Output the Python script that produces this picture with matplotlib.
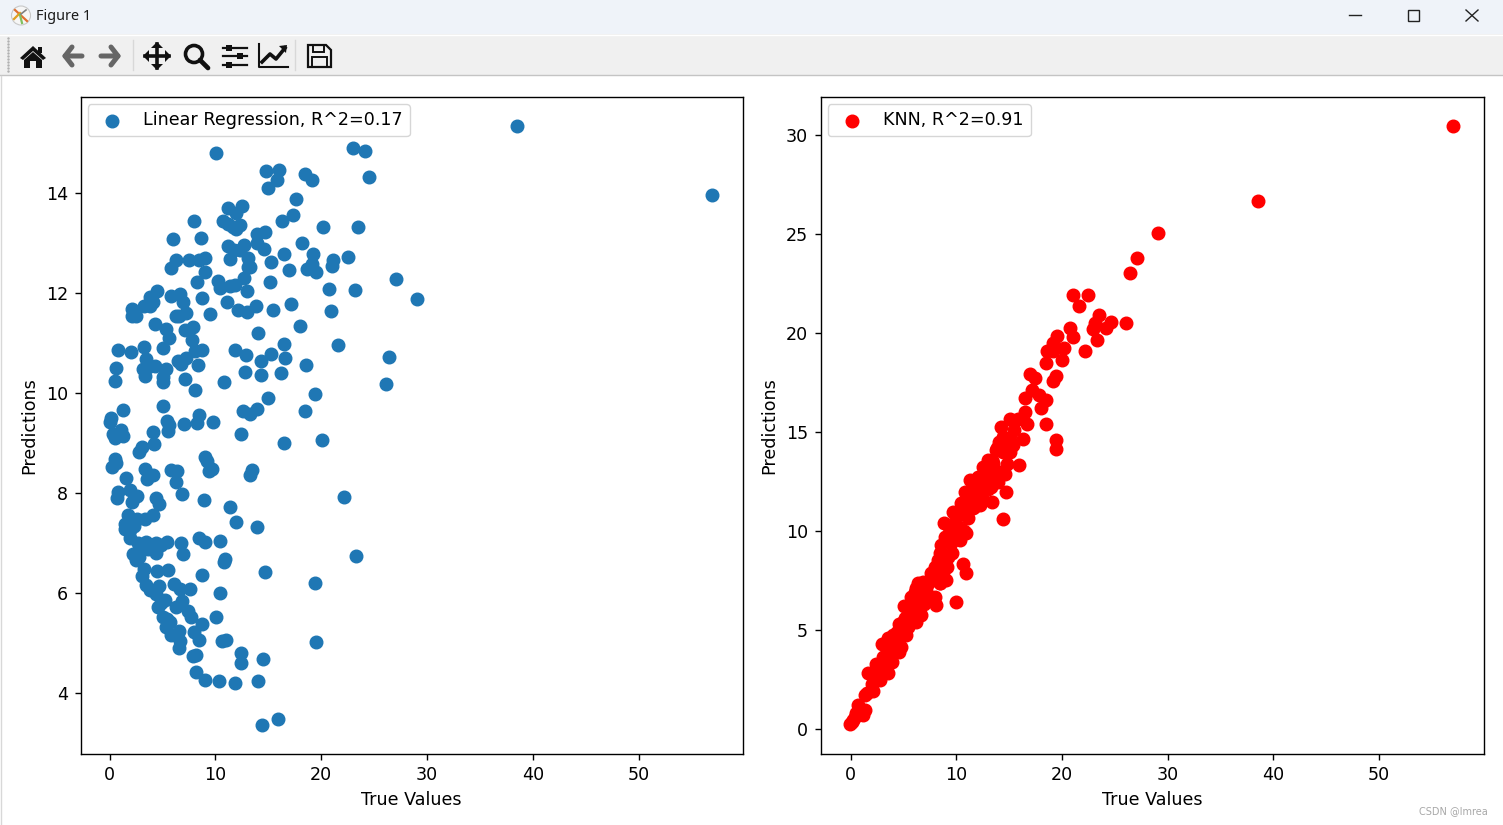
import matplotlib
matplotlib.use("Agg")
import matplotlib.pyplot as plt
from matplotlib.patches import Circle, Polygon, Rectangle

# values
lr_true = [
    38.47, 56.9,
    10.05, 23.0, 24.13, 24.51, 14.77, 16.0, 15.84, 15.0, 18.46, 19.12,
    17.64, 17.33, 16.29, 20.16, 23.47, 11.18, 12.5, 11.94, 7.97, 10.71,
    11.18, 11.66, 11.97, 12.35, 13.92, 14.65, 13.95, 14.58, 5.99, 8.63,
    18.18, 11.18, 12.73, 11.75, 12.29, 11.37, 16.47, 19.21, 22.52, 13.07,
    15.25, 21.07, 21.01, 6.27, 5.8, 7.5, 8.44, 8.98, 9.01, 13.07,
    13.23, 16.95, 18.65, 19.12, 19.53, 12.73, 15.15, 8.25, 10.24, 10.43,
    11.34, 11.88, 12.98, 20.73, 23.18, 27.06, 29.07, 4.47, 5.83, 6.68,
    6.96, 8.76, 3.87, 4.1, 3.78, 3.24, 11.09, 12.13, 12.98, 13.83,
    15.43, 17.14, 20.92, 2.11, 2.11, 2.52, 7.21, 6.27, 6.55, 9.48,
    4.28, 5.35, 7.12, 7.91, 18.02, 14.02, 5.61, 7.78, 21.58, 16.47,
    5.04, 3.24, 0.79, 2.02, 8.06, 8.73, 11.84, 12.88, 15.25, 16.57,
    26.43, 14.3, 3.47, 6.46, 7.25, 6.77, 8.35, 18.55, 4.28, 3.15,
    3.62, 0.6, 5.35, 12.79, 16.19, 14.3, 3.34, 5.1, 5.1, 7.12,
    0.5, 26.11, 10.8, 8.06, 19.4, 14.99, 5.04, 1.26, 12.6, 13.95,
    13.29, 18.46, 8.44, 8.25, 7.02, 5.42, 5.61, 9.77, 0.16, 0.06,
    12.41, 5.51, 4.1, 1.1, 0.3, 1.32, 0.54, 4.19, 16.47, 20.07,
    3.06, 2.77, 8.98, 9.2, 9.67, 9.39, 13.45, 13.26, 0.5, 0.63,
    0.22, 3.31, 4.1, 3.53, 5.83, 6.36, 6.27, 1.54, 6.84, 0.79,
    1.92, 0.69, 2.61, 2.11, 4.38, 4.66, 8.91, 22.14, 11.37, 11.94,
    13.92, 1.73, 4.1, 2.61, 3.31, 1.51, 2.36, 1.42, 1.95, 1.95,
    8.5, 8.98, 10.43, 6.74, 6.93, 5.42, 4.38, 3.47, 2.68, 4.88,
    2.84, 3.62, 4.38, 2.2, 2.77, 2.52, 10.93, 10.8, 23.28, 14.68,
    19.4, 8.76, 5.51, 4.47, 3.24, 3.06, 6.08, 6.68, 7.59, 10.43,
    3.43, 4.66, 3.81, 4.38, 5.29, 6.84, 6.27, 4.57, 4.85, 7.4,
    7.69, 10.05, 8.73, 5.04, 5.42, 5.67, 5.35, 6.55, 7.97, 8.44,
    5.83, 6.65, 6.55, 10.62, 11.03, 19.5, 12.41, 14.49, 12.41, 7.88,
    8.19, 8.16, 9.01, 10.33, 11.84, 14.02, 14.4, 15.91,
]
lr_pred = [
    15.34, 13.96,
    14.81, 14.91, 14.85, 14.33, 14.45, 14.47, 14.27, 14.11, 14.39, 14.27,
    13.89, 13.57, 13.45, 13.33, 13.33, 13.71, 13.75, 13.61, 13.45, 13.44,
    13.39, 13.33, 13.28, 13.36, 13.19, 13.23, 13.01, 12.89, 13.09, 13.11,
    13.01, 12.95, 12.97, 12.87, 12.86, 12.69, 12.79, 12.79, 12.73, 12.70,
    12.63, 12.66, 12.55, 12.66, 12.51, 12.67, 12.66, 12.70, 12.43, 12.52,
    12.52, 12.47, 12.49, 12.58, 12.43, 12.30, 12.23, 12.23, 12.25, 12.11,
    12.15, 12.17, 12.05, 12.09, 12.07, 12.29, 11.89, 12.05, 11.95, 11.99,
    11.83, 11.91, 11.93, 11.83, 11.75, 11.75, 11.83, 11.67, 11.63, 11.75,
    11.67, 11.79, 11.65, 11.69, 11.55, 11.55, 11.6, 11.55, 11.55, 11.58,
    11.39, 11.29, 11.27, 11.33, 11.35, 11.21, 11.11, 11.07, 10.97, 10.99,
    10.91, 10.93, 10.87, 10.83, 10.85, 10.87, 10.86, 10.77, 10.79, 10.71,
    10.73, 10.65, 10.69, 10.64, 10.7, 10.59, 10.57, 10.57, 10.55, 10.49,
    10.53, 10.51, 10.48, 10.43, 10.41, 10.37, 10.35, 10.33, 10.23, 10.29,
    10.25, 10.19, 10.21, 10.05, 9.97, 9.91, 9.75, 9.67, 9.65, 9.69,
    9.59, 9.63, 9.55, 9.41, 9.39, 9.45, 9.36, 9.43, 9.51, 9.43,
    9.19, 9.24, 9.21, 9.26, 9.18, 9.15, 9.11, 8.99, 9.01, 9.05,
    8.93, 8.83, 8.73, 8.63, 8.49, 8.45, 8.46, 8.36, 8.69, 8.61,
    8.53, 8.48, 8.36, 8.29, 8.46, 8.45, 8.23, 8.31, 7.99, 8.03,
    8.05, 7.91, 7.94, 7.83, 7.91, 7.79, 7.87, 7.93, 7.73, 7.43,
    7.33, 7.57, 7.57, 7.49, 7.49, 7.39, 7.34, 7.29, 7.26, 7.11,
    7.1, 7.02, 7.05, 7.01, 6.79, 7.02, 7.01, 7.02, 7.01, 6.96,
    6.89, 6.89, 6.81, 6.78, 6.73, 6.66, 6.69, 6.63, 6.75, 6.43,
    6.21, 6.37, 6.47, 6.45, 6.49, 6.35, 6.19, 6.09, 6.09, 6.01,
    6.17, 6.15, 6.07, 5.99, 5.86, 5.85, 5.73, 5.73, 5.81, 5.65,
    5.53, 5.53, 5.39, 5.53, 5.49, 5.43, 5.33, 5.25, 5.23, 5.06,
    5.16, 5.05, 4.91, 5.04, 5.06, 5.03, 4.81, 4.69, 4.61, 4.75,
    4.77, 4.43, 4.27, 4.25, 4.21, 4.25, 3.37, 3.49,
]

knn_true = [
    57.0, 38.54, 29.07, 27.08, 26.42,
    21.06, 22.48, 21.63, 23.52, 24.63, 26.08, 24.22, 23.11, 22.95, 23.33,
    20.74, 21.06, 19.54, 19.17, 20.24, 18.6, 19.17, 22.2, 20.02, 18.53,
    16.95, 17.43, 19.42, 19.17, 17.18, 16.51, 17.81, 18.47, 18.03, 16.51,
    15.06, 15.85, 14.24, 15.47, 16.67, 18.53, 16.32, 19.48, 19.48,
    14.43, 15.06, 14.05, 14.75, 15.38, 13.8, 14.43, 15.06, 13.01, 13.48,
    12.54, 13.01, 13.8, 14.59, 15.94, 12.06, 11.27, 12.85, 11.75, 12.38,
    13.96, 13.32, 12.85, 14.71, 10.8, 11.59, 12.22, 11.43, 12.53, 13.42,
    10.48, 11.11, 12.22, 11.59, 10.8, 9.73, 11.11, 14.43, 8.84, 10.01,
    9.85, 10.39, 10.89, 8.94, 9.85, 10.39, 9.54, 8.59, 8.43, 9.22,
    8.27, 8.9, 10.64, 10.96, 7.64, 8.27, 8.75, 9.06, 8.43, 6.38,
    6.85, 7.33, 7.96, 8.12, 9.98, 6.22, 7.17, 5.75, 6.54, 7.33,
    5.02, 5.91, 6.7, 5.43, 6.16, 4.58, 5.43, 5.27, 4.01, 3.54,
    4.49, 3.0, 4.8, 4.01, 3.06, 3.7, 2.43, 2.91, 3.54, 1.64,
    2.27, 2.75, 2.12, 1.33, 0.7, 1.33, 1.17, 0.54, 0.22, -0.09,
    0.1, 0.4, 0.9, 1.6, 2.0, 2.4, 2.9, 3.3, 3.6, 4.1,
    4.4, 4.8, 5.2, 5.6, 6.0, 6.4, 6.8, 7.3, 7.7, 8.0,
    8.6, 9.3, 11.3, 11.9, 12.4, 12.9, 13.4, 13.9,
    5.0, 5.8, 6.5, 7.0, 7.6, 8.5, 9.1, 9.6, 10.2, 10.7,
    11.0, 11.7, 12.3, 13.0, 13.6, 14.2, 14.8, 3.9, 4.6, 6.1,
]
knn_pred = [
    30.45, 26.67, 25.05, 23.79, 23.03,
    21.92, 21.92, 21.35, 20.91, 20.54, 20.49, 20.27, 20.49, 20.19, 19.65,
    20.27, 19.82, 19.87, 19.48, 19.26, 19.09, 19.09, 19.09, 18.62, 18.47,
    17.95, 17.75, 17.83, 17.58, 17.12, 16.72, 16.87, 16.62, 16.2, 16.01,
    15.64, 15.64, 15.25, 15.1, 15.39, 15.39, 14.63, 14.6, 14.14,
    14.77, 14.68, 14.48, 14.43, 14.34, 14.09, 14.01, 14.01, 13.59, 13.42,
    13.25, 13.17, 13.0, 12.88, 13.32, 12.74, 12.58, 12.74, 12.49, 12.58,
    12.49, 12.24, 12.41, 11.97, 11.99, 12.07, 11.9, 11.73, 11.57, 11.45,
    11.43, 11.4, 11.31, 11.14, 11.06, 10.94, 10.67, 10.61, 10.39, 10.64,
    10.3, 10.13, 9.88, 9.71, 9.8, 9.55, 9.38, 9.29, 8.87, 8.7,
    8.53, 8.45, 8.33, 7.86, 7.89, 7.86, 7.95, 7.52, 7.36, 7.39,
    7.44, 7.36, 6.68, 6.26, 6.4, 7.1, 7.1, 6.68, 6.68, 6.77,
    6.21, 6.18, 5.76, 5.76, 5.42, 5.3, 5.17, 4.75, 4.75, 4.58,
    4.58, 4.29, 4.16, 3.9, 3.65, 3.4, 3.31, 3.06, 2.81, 2.81,
    2.64, 2.47, 1.93, 1.71, 1.21, 0.96, 0.7, 0.79, 0.45, 0.23,
    0.35, 0.6, 1.0, 1.8, 2.3, 2.7, 3.2, 3.7, 4.1, 4.4,
    4.9, 5.2, 5.6, 6.0, 6.3, 6.7, 7.0, 7.4, 7.7, 8.2,
    8.9, 9.9, 11.7, 12.2, 12.8, 13.2, 13.6, 14.2,
    5.4, 5.9, 6.0, 6.3, 6.6, 7.4, 8.2, 8.9, 9.6, 10.0,
    10.9, 11.2, 11.9, 12.1, 12.7, 13.0, 13.4, 3.4, 3.9, 6.9,
]

W, H = 1503, 825
FS = 12.6

fig = plt.figure(figsize=(W / 100, H / 100), dpi=100, facecolor="white")

# window frame and toolbar, drawn in pixel coordinates
bg = fig.add_axes([0, 0, 1, 1], zorder=-1)
bg.set_xlim(0, W)
bg.set_ylim(H, 0)
bg.axis("off")
bg.add_patch(Rectangle((0, 0), W, 34, color="#eff3f9", lw=0))
bg.add_patch(Rectangle((0, 34), W, 41, color="#f0f0f0", lw=0))
bg.plot([0, W], [75, 75], color="#c4c4c4", lw=1)
bg.plot([0, W], [34.5, 34.5], color="#ffffff", lw=1)
bg.plot([1, 1], [76, H], color="#d8d8d8", lw=1)
bg.text(36, 16, "Figure 1", fontsize=10.4, family="Noto Sans", va="center", color="#1a1a1a")

# app logo
bg.add_patch(Circle((21, 15.5), 9.5, fc="#f6f6f6", ec="#c8c8c8", lw=0.8))
bg.plot([15, 27], [10, 21], color="#e07030", lw=1.6)
bg.plot([14, 20], [19, 13], color="#e0a020", lw=1.6)
bg.plot([20, 22], [15, 23], color="#80c060", lw=1.6)
bg.plot([21, 26], [14, 10], color="#808080", lw=1.2)

# window buttons
bg.plot([1349, 1361], [14.5, 14.5], color="#222222", lw=1)
bg.add_patch(Rectangle((1407.5, 9.5), 11, 11, fc="none", ec="#222222", lw=1))
bg.plot([1466, 1478], [10, 21], color="#222222", lw=1)
bg.plot([1466, 1478], [21, 10], color="#222222", lw=1)

# toolbar
grip_y = range(38, 73, 3)
bg.plot([8] * len(grip_y), list(grip_y), ls="none", marker=".", ms=1.5, color="#b0b0b0")
for sx in (133, 295):
    bg.plot([sx, sx], [40, 70], color="#d8d8d8", lw=1)

dark = "#111111"
grey = "#666666"
# home
bg.add_patch(Polygon([(20, 58), (33, 46), (46, 58), (43, 60), (33, 51), (23, 60)], color=dark, lw=0))
bg.add_patch(Polygon([(24, 60), (33, 52), (42, 60), (42, 68), (36, 68), (36, 61), (30, 61), (30, 68), (24, 68)], color=dark, lw=0))
bg.add_patch(Rectangle((38, 47), 4, 6, color=dark, lw=0))
# back and forward
bg.plot([82, 65, 72], [56, 56, 47], color=grey, lw=3.6, solid_capstyle="round")
bg.plot([65, 72], [56, 65], color=grey, lw=3.6, solid_capstyle="round")
bg.plot([101, 118, 111], [56, 56, 47], color=grey, lw=3.6, solid_capstyle="round")
bg.plot([118, 111], [56, 65], color=grey, lw=3.6, solid_capstyle="round")
# pan
bg.plot([145, 169], [56, 56], color=dark, lw=2.6)
bg.plot([157, 157], [44, 68], color=dark, lw=2.6)
for p in ([(143, 56), (149, 50), (149, 62)], [(171, 56), (165, 50), (165, 62)],
          [(157, 42), (151, 48), (163, 48)], [(157, 70), (151, 64), (163, 64)]):
    bg.add_patch(Polygon(p, color=dark, lw=0))
# zoom
bg.add_patch(Circle((194, 54), 8.5, fc="none", ec=dark, lw=2.6))
bg.plot([200, 208], [60, 68], color=dark, lw=3.4, solid_capstyle="round")
# sliders
for y0, kx in ((48, 229), (56, 240), (65, 229)):
    bg.plot([223, 247], [y0, y0], color=dark, lw=1.6)
    bg.add_patch(Rectangle((kx - 3, y0 - 3), 6, 6, color=dark, lw=0))
# line chart icon
bg.plot([259, 259, 288], [44, 67, 67], color=dark, lw=1.5)
bg.plot([262, 270, 276, 285], [62, 54, 59, 48], color=dark, lw=2.6)
bg.add_patch(Polygon([(287, 45), (279, 46), (286, 53)], color=dark, lw=0))
# save
bg.add_patch(Polygon([(308, 45), (326, 45), (331, 50), (331, 67), (308, 67)], fc="none", ec=dark, lw=1.6))
bg.add_patch(Rectangle((313, 45), 11, 7, fc="none", ec=dark, lw=1.4))
bg.add_patch(Rectangle((312, 57), 15, 10, fc="none", ec=dark, lw=1.4))

bg.text(1488, 811, "CSDN @Imrea", fontsize=7, color="#a8a8a8", ha="right", va="center")


def panel(x0, x1, y0, y1):
    return fig.add_axes([x0 / W, 1 - y1 / H, (x1 - x0) / W, (y1 - y0) / H])


ax1 = panel(80.5, 743, 97, 754)
ax1.scatter(lr_true, lr_pred, s=82, label="Linear Regression, R^2=0.17")
ax1.set_xlim(-2.74, 59.85)
ax1.set_ylim(2.78, 15.92)
ax1.set_yticks([4, 6, 8, 10, 12, 14])

ax2 = panel(820.5, 1484, 97, 754)
ax2.scatter(knn_true, knn_pred, s=82, color="red", label="KNN, R^2=0.91")
ax2.set_xlim(-2.84, 59.94)
ax2.set_ylim(-1.26, 31.92)
ax2.set_yticks([0, 5, 10, 15, 20, 25, 30])

for ax in (ax1, ax2):
    ax.set_xticks([0, 10, 20, 30, 40, 50])
    ax.tick_params(labelsize=FS, length=4.6, width=1, pad=4.4)
    ax.set_xlabel("True Values", fontsize=FS, labelpad=4.6)
    ax.set_ylabel("Predictions", fontsize=FS, labelpad=5.2)
    ax.legend(loc="upper left", fontsize=FS, borderaxespad=0.42, handletextpad=0.76)
    for s in ax.spines.values():
        s.set_linewidth(1)

fig.savefig("out.png", dpi=100)
